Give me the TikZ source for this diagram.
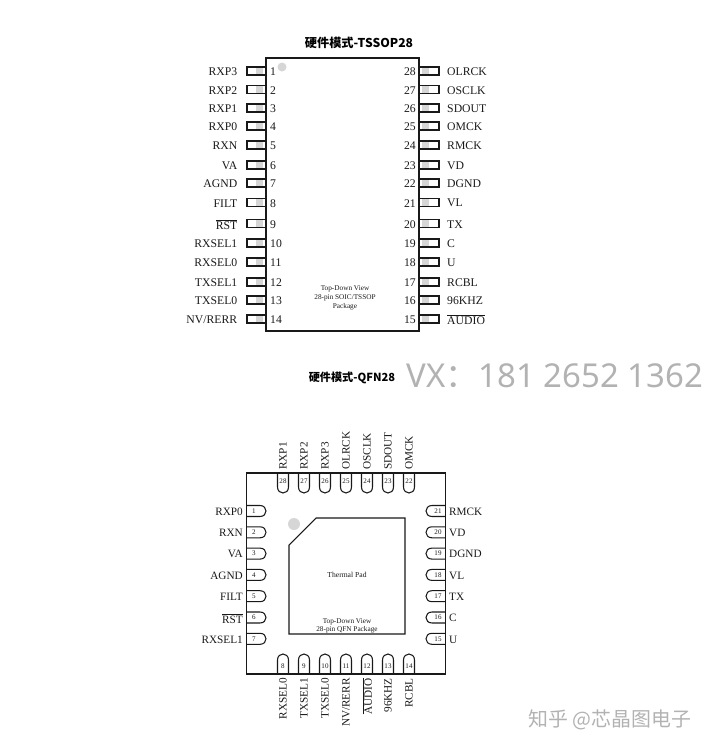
\documentclass[tikz,border=0pt]{standalone}
\usepackage{fontspec}
\setmainfont{Liberation Serif}
\newfontfamily\cjkbold{Noto Sans CJK SC}
\newfontfamily\marksans{Noto Sans}
\newfontfamily\markcjk{Noto Sans CJK SC}
\usepackage{tikz}
\definecolor{markgray}{RGB}{178,178,178}
\definecolor{pingray}{RGB}{214,214,214}
\definecolor{ink}{RGB}{25,25,25}
\tikzset{
  pinlabel/.style={inner sep=0pt, text=ink, font=\fontsize{10}{12}\selectfont},
  qfnlabel/.style={inner sep=0pt, text=ink, font=\fontsize{9.6}{12}\selectfont},
  pinnum/.style={inner sep=0pt, text=ink, font=\fontsize{10}{12}\selectfont},
  qfnnum/.style={inner sep=0pt, text=ink, font=\fontsize{6}{7}\selectfont},
  note/.style={inner sep=0pt, align=center, text=ink, font=\fontsize{6.2}{7.4}\selectfont},
  heading/.style={inner sep=0pt, font=\cjkbold\bfseries\fontsize{9.5}{11}\selectfont},
  outline/.style={draw=ink, line width=1.1pt},
  pinline/.style={draw=ink, line width=0.9pt}
}
\begin{document}
\begin{tikzpicture}[x=0.03cm,y=-0.03cm]
\useasboundingbox (0,0) rectangle (709,749);
\node[heading, font=\cjkbold\bfseries\fontsize{10.4}{12}\selectfont] (title1) at (359,42.5) {硬件模式-TSSOP28};
\draw[outline] (266,58) rectangle (419,331);
\fill[pingray] (282,67) circle (4.5);
\foreach \name/\y [count=\i] in {RXP3/71,RXP2/89.5,RXP1/108,RXP0/126,RXN/145,VA/165,AGND/183,FILT/202.5,$\overline{\mbox{RST}}$/223.5,RXSEL1/243,RXSEL0/262,TXSEL1/282,TXSEL0/300,{NV/RERR}/319} {
  \fill[pingray] (256,\y-4) rectangle (263,\y+4);
  \draw[pinline] (266,\y-4) -- (247,\y-4) -- (247,\y+4) -- (266,\y+4);
  \node[pinlabel, anchor=east] (sl\i) at (237.5,\y+0.7) {\name};
  \node[pinnum, anchor=west] (sn\i) at (270,\y+0.7) {\i};
}
\foreach \name/\y [count=\i] in {OLRCK/71,OSCLK/89.5,SDOUT/108,OMCK/126,RMCK/145,VD/165,DGND/183,VL/202.5,TX/223.5,C/243,U/262,RCBL/282,96KHZ/300,$\overline{\mbox{AUDIO}}$/319} {
  \pgfmathtruncatemacro{\n}{29-\i}
  \fill[pingray] (422,\y-4) rectangle (429,\y+4);
  \draw[pinline] (419,\y-4) -- (439,\y-4) -- (439,\y+4) -- (419,\y+4);
  \node[pinlabel, anchor=west] (sr\n) at (447,\y+0.7) {\name};
  \node[pinnum, anchor=east] (sm\n) at (416,\y+0.7) {\n};
}
\node[note] (view1) at (345,298) {Top-Down View\\28-pin SOIC/TSSOP\\Package};
\node[heading] (title2) at (352,377.5) {硬件模式-QFN28};
\node[inner sep=0pt, text=markgray, font=\marksans\fontsize{28.1}{32}\selectfont] (mark1) at (555,376) {VX{\markcjk：}181 2652 1362};
\draw[outline] (246.5,473) rectangle (445.5,674);
\fill[pingray] (294,524) circle (6);
\draw[pinline] (316,518) -- (405,518) -- (405,634) -- (289,634) -- (289,545) -- cycle;
\node[inner sep=0pt, text=ink, font=\fontsize{6.5}{8}\selectfont] (pad) at (347,575) {Thermal Pad};
\node[note] (view2) at (347,626) {Top-Down View\\28-pin QFN Package};
\foreach \name/\n [count=\i] in {RXP0/1,RXN/2,VA/3,AGND/4,FILT/5,$\overline{\mbox{RST}}$/6,RXSEL1/7} {
  \pgfmathsetmacro{\y}{511+(\i-1)*21.3}
  \draw[pinline] (246.5,\y-5.5) -- (260,\y-5.5) .. controls (268,\y-5.5) and (268,\y+5.5) .. (260,\y+5.5) -- (246.5,\y+5.5);
  \node[qfnlabel, anchor=east] (ql\n) at (243,\y+0.7) {\name};
  \node[qfnnum] (qa\n) at (254,\y) {\n};
}
\foreach \name/\n [count=\i] in {RMCK/21,VD/20,DGND/19,VL/18,TX/17,C/16,U/15} {
  \pgfmathsetmacro{\y}{511+(\i-1)*21.3}
  \draw[pinline] (445.5,\y-5.5) -- (432,\y-5.5) .. controls (424,\y-5.5) and (424,\y+5.5) .. (432,\y+5.5) -- (445.5,\y+5.5);
  \node[qfnlabel, anchor=west] (qr\n) at (449,\y+0.7) {\name};
  \node[qfnnum] (qb\n) at (438,\y) {\n};
}
\foreach \name/\n [count=\i] in {RXP1/28,RXP2/27,RXP3/26,OLRCK/25,OSCLK/24,SDOUT/23,OMCK/22} {
  \pgfmathsetmacro{\x}{283+(\i-1)*21}
  \draw[pinline] (\x-5.5,473) -- (\x-5.5,487) .. controls (\x-5.5,495) and (\x+5.5,495) .. (\x+5.5,487) -- (\x+5.5,473);
  \node[qfnlabel, rotate=90, anchor=west] (qt\n) at (\x,470) {\name};
  \node[qfnnum] (qc\n) at (\x,481.5) {\n};
}
\foreach \name/\n [count=\i] in {RXSEL0/8,TXSEL1/9,TXSEL0/10,{NV/RERR}/11,$\overline{\mbox{AUDIO}}$/12,96KHZ/13,RCBL/14} {
  \pgfmathsetmacro{\x}{283+(\i-1)*21}
  \draw[pinline] (\x-5.5,674) -- (\x-5.5,660) .. controls (\x-5.5,652) and (\x+5.5,652) .. (\x+5.5,660) -- (\x+5.5,674);
  \node[qfnlabel, rotate=90, anchor=east] (qd\n) at (\x,678) {\name};
  \node[qfnnum] (qe\n) at (\x,666) {\n};
}
\node[inner sep=0pt, text=markgray, font=\markcjk\fontsize{17}{20}\selectfont] (mark2) at (610,720) {知乎 @芯晶图电子};
\end{tikzpicture}
\end{document}
